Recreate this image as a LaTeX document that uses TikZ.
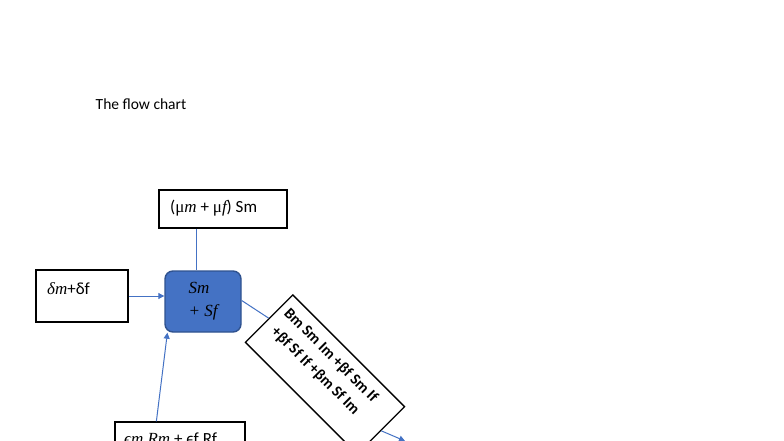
\documentclass[tikz,border=0pt]{standalone}
\usepackage{fontspec}
\setmainfont{Carlito}
\newfontfamily\serf{Liberation Serif}
\usetikzlibrary{arrows.meta,calc}
\definecolor{bluefill}{HTML}{4472C4}
\definecolor{blueedge}{HTML}{2F528F}
\begin{document}
\begin{tikzpicture}[x=1pt,y=-1pt,
  plainbox/.style={draw=black,line width=1.3pt,fill=white,inner sep=0pt},
  bluebox/.style={draw=blueedge,fill=bluefill,line width=1.4pt,rounded corners=8pt,
    minimum width=76pt,minimum height=61pt,inner sep=0pt},
  conn/.style={draw=bluefill,line width=1pt},
  arr/.style={conn,-{Triangle[width=6pt,length=6pt]}},
  txt/.style={font=\fontsize{17}{20}\selectfont,inner sep=0pt}]
\useasboundingbox (0,0) rectangle (784,441);
\clip (0,0) rectangle (784,441);
\fill[white] (0,0) rectangle (784,441);

\node[txt,font=\fontsize{15.5}{18}\selectfont] (title) at (141,104) {The flow chart};

% top box
\node[plainbox,minimum width=128pt,minimum height=38pt] (topb) at (223,209) {};
\node[txt,anchor=west] (toptxt) at (170,208) {({\serf μ\itshape m} + {\serf μ\itshape f}) Sm};

% left box
\node[plainbox,minimum width=92pt,minimum height=52pt] (leftb) at (82,296) {};
\node[txt,anchor=west] (lefttxt) at (47,289) {{\serf\itshape δm}+δf};

% blue box
\node[bluebox] (blue) at (203,301.5) {};
\node[txt,align=left,text=black,font=\serf\itshape\fontsize{17}{23}\selectfont] (bluetxt) at (203,301.5) {Sm\\+ Sf};

% rotated box
\node[plainbox,rotate=-45,minimum width=158pt,minimum height=67pt] (rot) at (325,374.5) {};
\node[inner sep=0pt,rotate=-45,align=center,font=\bfseries\fontsize{15.5}{22}\selectfont] (rottxt) at (323,363.5)
  {Bm Sm Im +βf Sm If\\+βf Sf If +βm Sf Im};

% bottom box
\node[plainbox,minimum width=130pt,minimum height=50pt] (botb) at (180,447) {};
\node[txt,anchor=west] (bottxt) at (124,439) {{\serf\itshape ϵm Rm} + ϵf Rf};

% connectors
\coordinate (topout) at ($(topb.south west)!0.297!(topb.south east)$);
\draw[conn] (topout) -- (topout |- blue.north);
\draw[arr] (leftb.east) -- (leftb.east -| blue.west);
\coordinate (botout) at ($(botb.north west)!0.32!(botb.north east)$);
\coordinate (botin) at ($(blue.south west)!0.04!(blue.south east)$);
\draw[arr] (botout) -- (botin);
\draw[conn] (blue.east) ++(0,-1) coordinate (bluer) -- (rot.west);
\coordinate (exitend) at (405,441);
\draw[arr] (rot.east) -- (exitend);
\end{tikzpicture}
\end{document}
